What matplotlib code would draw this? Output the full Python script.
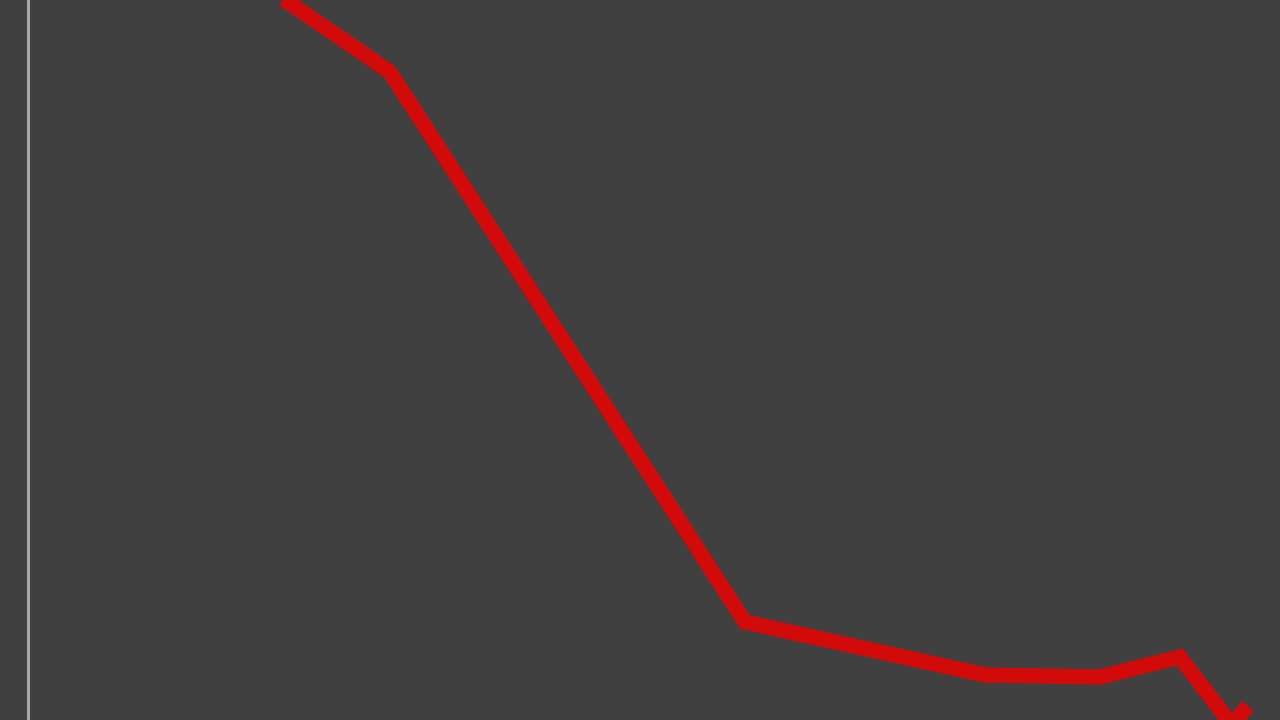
import matplotlib
matplotlib.use("Agg")
import matplotlib.pyplot as plt

# Valores (x, nivel)
x_vals = [240, 390, 745, 985, 1100, 1180, 1232, 1248]
y_vals = [751, 648, 98, 45, 43, 63, -5, 14]

fig = plt.figure(figsize=(12.8, 7.2), dpi=100)
fig.patch.set_facecolor("#404040")
ax = fig.add_axes([28 / 1280, 0, 1 - 28 / 1280, 1])
ax.set_facecolor("#404040")

ax.plot(x_vals, y_vals, color="#d20a0a", linewidth=11, solid_joinstyle="miter",
        solid_capstyle="butt")

ax.set_xlim(28, 1280)
ax.set_ylim(0, 720)
for side in ["top", "right", "bottom"]:
    ax.spines[side].set_visible(False)
ax.spines["left"].set_color("#a8a8a8")
ax.spines["left"].set_linewidth(2.2)
ax.set_xticks([])
ax.set_yticks([])

plt.savefig("out.png", dpi=100, facecolor=fig.get_facecolor())
plt.close()
